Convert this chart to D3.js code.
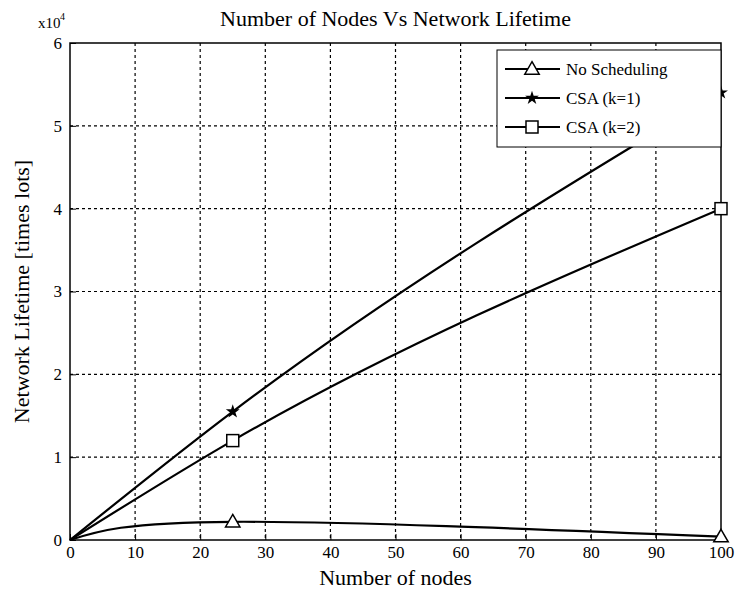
<!doctype html>
<html>
<head>
<meta charset="utf-8">
<script src="https://d3js.org/d3.v7.min.js"></script>
<style>
  body { margin:0; background:#fff; }
  svg text { font-family: 'Liberation Serif', 'DejaVu Serif', serif; fill:#000; }
</style>
</head>
<body>
<svg id="chart" width="743" height="601" font-family="Liberation Serif"></svg>
<script>
  var nodes = [0, 25, 100];
  var noSched = [0, 2200, 400];
  var csa1 = [0, 15500, 54000];
  var csa2 = [0, 12000, 40000];
  var xTicks = [0,10,20,30,40,50,60,70,80,90,100];
  var yTicks = [0,1,2,3,4,5,6];

  var svg = d3.select("#chart");
  var L = 70, R = 721, T = 43, B = 540;
  var x = d3.scaleLinear().domain([0,100]).range([L,R]);
  var y = d3.scaleLinear().domain([0,60000]).range([B,T]);

  // grid
  var g = svg.append("g");
  g.selectAll(".gx").data(xTicks.slice(1,-1)).enter().append("line")
    .attr("x1", d=>x(d)).attr("x2", d=>x(d)).attr("y1",T).attr("y2",B)
    .attr("stroke","#000").attr("stroke-width",1.2).attr("stroke-dasharray","3,3");
  g.selectAll(".gy").data(yTicks.slice(1,-1)).enter().append("line")
    .attr("y1", d=>y(d*1e4)).attr("y2", d=>y(d*1e4)).attr("x1",L).attr("x2",R)
    .attr("stroke","#000").attr("stroke-width",1.2).attr("stroke-dasharray","3,3");
  svg.append("rect").attr("x",L).attr("y",T).attr("width",R-L).attr("height",B-T)
    .attr("fill","none").attr("stroke","#000").attr("stroke-width",1.5);

  var xa = svg.append("g").attr("transform","translate(0,"+B+")")
    .call(d3.axisBottom(x).tickValues(xTicks).tickSize(-6).tickPadding(6));
  var ya = svg.append("g").attr("transform","translate("+L+",0)")
    .call(d3.axisLeft(y).tickValues(yTicks.map(d=>d*1e4)).tickFormat(d=>d/1e4).tickSize(-6).tickPadding(8));
  [xa,ya].forEach(a=>{ a.select(".domain").remove();
    a.attr("font-family","Liberation Serif").attr("font-size",17);
    a.selectAll("text").attr("font-family","Liberation Serif").style("font-size","17px"); });

  svg.append("text").attr("x",38).attr("y",28).style("font-size","15px").text("x10");
  svg.append("text").attr("x",60).attr("y",20).style("font-size","10px").text("4");

  svg.append("text").attr("x",(L+R)/2).attr("y",26).attr("text-anchor","middle")
    .style("font-size","22px").text("Number of Nodes Vs Network Lifetime");
  svg.append("text").attr("x",(L+R)/2).attr("y",585).attr("text-anchor","middle")
    .style("font-size","22px").text("Number of nodes");
  svg.append("text").attr("transform","translate(29,"+((T+B)/2)+") rotate(-90)")
    .attr("text-anchor","middle").style("font-size","22px").text("Network Lifetime [times lots]");

  var series = [
    {v:noSched, m:"tri", c:d3.curveNatural}, {v:csa1, m:"star", c:d3.curveMonotoneX}, {v:csa2, m:"sq", c:d3.curveMonotoneX}
  ];
  function marker(sel, m, cx, cy) {
    if (m==="tri") sel.append("path").attr("d", d3.symbol(d3.symbolTriangle, 90)())
      .attr("transform","translate("+cx+","+(cy+1)+")").attr("fill","#fff").attr("stroke","#000").attr("stroke-width",1.5);
    else if (m==="sq") sel.append("rect").attr("x",cx-6).attr("y",cy-6).attr("width",12).attr("height",12)
      .attr("fill","#fff").attr("stroke","#000").attr("stroke-width",1.5);
    else sel.append("path").attr("d", d3.symbol(d3.symbolStar, 60)())
      .attr("transform","translate("+cx+","+cy+")").attr("fill","#000");
  }
  series.forEach(s=>{
    var line = d3.line().x((d,i)=>x(nodes[i])).y(d=>y(d)).curve(s.c);
    svg.append("path").attr("d", line(s.v)).attr("fill","none").attr("stroke","#000").attr("stroke-width",2.2);
    s.v.forEach((d,i)=>{ if (i>0) marker(svg, s.m, x(nodes[i]), y(d)); });
  });

  // legend
  var names = ["No Scheduling","CSA (k=1)","CSA (k=2)"];
  svg.append("rect").attr("x",497).attr("y",50).attr("width",224).attr("height",97)
    .attr("fill","#fff").attr("stroke","#000");
  names.forEach((n,i)=>{
    var yy = 69 + i*29;
    svg.append("line").attr("x1",505).attr("x2",560).attr("y1",yy).attr("y2",yy).attr("stroke","#000").attr("stroke-width",2.2);
    marker(svg, series[i].m, 532, yy);
    svg.append("text").attr("x",566).attr("y",yy+6).style("font-size","17px").text(n);
  });
</script>
</body>
</html>
